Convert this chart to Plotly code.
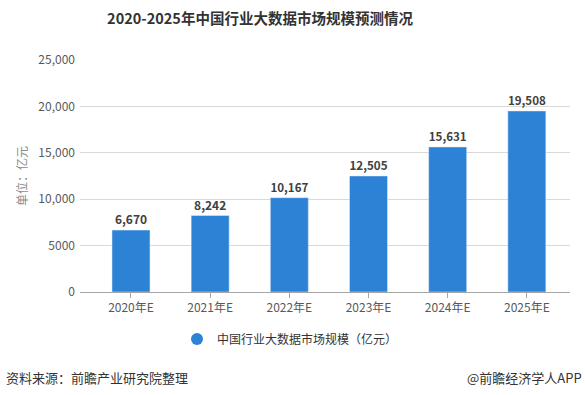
import plotly.graph_objects as go

categories = ["2020年E", "2021年E", "2022年E", "2023年E", "2024年E", "2025年E"]
values = [6670, 8242, 10167, 12505, 15631, 19508]
value_labels = ["6,670", "8,242", "10,167", "12,505", "15,631", "19,508"]
y_tickvals = [0, 5000, 10000, 15000, 20000, 25000]
y_ticktext = ["0", "5000", "10,000", "15,000", "20,000", "25,000"]
series_name = "中国行业大数据市场规模（亿元）"

FONT = "Noto Sans CJK SC, Microsoft YaHei, sans-serif"
BAR_COLOR = "#2C83D6"

fig = go.Figure()
fig.add_trace(go.Bar(
    x=categories, y=values, name=series_name,
    marker=dict(color=BAR_COLOR),
    width=0.48,
    text=["<b>" + t + "</b>" for t in value_labels], textposition="outside",
    textfont=dict(size=12, color="#404040", family=FONT),
    cliponaxis=False, showlegend=False,
))
# legend entry with circular marker
fig.add_trace(go.Scatter(
    x=[None], y=[None], mode="markers", name=series_name,
    marker=dict(color=BAR_COLOR, size=12, symbol="circle"),
    showlegend=True,
))

fig.update_layout(
    width=585, height=395,
    margin=dict(l=80, r=15, t=60, b=103),
    paper_bgcolor="white", plot_bgcolor="white",
    font=dict(family=FONT, color="#595959", size=12),
    title=dict(text="<b>2020-2025年中国行业大数据市场规模预测情况</b>",
               x=260/585, xanchor="center", y=1 - 19/395, yanchor="middle",
               font=dict(size=14.5, color="#333333", family=FONT)),
    showlegend=True,
    legend=dict(orientation="h", x=(290-80)/490, xanchor="center", y=-(339-292)/232, yanchor="middle",
                font=dict(size=12, color="#333333", family=FONT),
                itemsizing="constant"),
)
fig.update_xaxes(
    range=[-0.644, 5.545],
    showline=True, linecolor="#A6A6A6", linewidth=1,
    ticks="outside", ticklen=5, tickcolor="#A6A6A6",
    tickfont=dict(size=12, color="#595959"),
    showgrid=False, automargin=False,
)
fig.update_yaxes(
    range=[0, 25000],
    tickvals=y_tickvals, ticktext=y_ticktext,
    showgrid=True, gridcolor="#D9D9D9", gridwidth=1,
    zeroline=False,
    tickfont=dict(size=12, color="#595959"),
    ticks="", ticklabelstandoff=4, automargin=False,
    title=dict(text="单位：亿元", font=dict(size=12, color="#8C8C8C"), standoff=8),
)

fig.add_annotation(text="资料来源：前瞻产业研究院整理", xref="paper", yref="paper",
                   x=-76/490, xanchor="left", y=-(377-292)/232, yanchor="middle",
                   showarrow=False, font=dict(size=13, color="#333333", family=FONT))
fig.add_annotation(text="@前瞻经济学人APP", xref="paper", yref="paper",
                   x=1.0 + 14/490, xanchor="right", y=-(377-292)/232, yanchor="middle",
                   showarrow=False, font=dict(size=13, color="#333333", family=FONT))

fig.write_html("out.html", config={"displayModeBar": False},
               post_script="document.body.style.margin='0';document.body.style.padding='0';")
